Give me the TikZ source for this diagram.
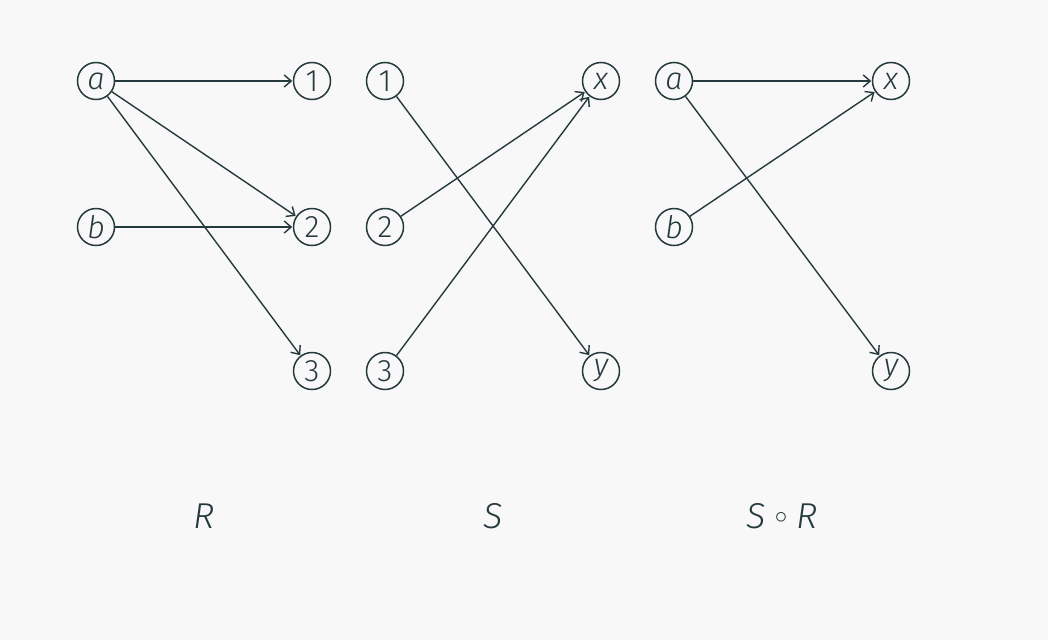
\documentclass[tikz,border=0pt]{standalone}
\usepackage{fontspec}
\setmainfont{Fira Sans}[UprightFont=* Light, ItalicFont=* Light Italic]
\usetikzlibrary{arrows.meta}
\definecolor{ink}{HTML}{263A3E}
\definecolor{bg}{HTML}{F8F8F8}
\begin{document}
\begin{tikzpicture}[x=1pt,y=-1pt,
  vtx/.style={circle,draw=ink,line width=1.5pt,minimum size=37pt,inner sep=0pt,text=ink,font=\fontsize{31}{32}\selectfont\itshape},
  num/.style={vtx,font=\fontsize{31}{32}\selectfont\upshape},
  edge/.style={draw=ink,line width=1.4pt,-{Straight Barb[length=7pt,width=12pt,line width=1.4pt]},shorten >=0.5pt},
  lbl/.style={text=ink,font=\fontsize{36}{38}\selectfont\itshape}]
\fill[bg] (0,0) rectangle (1048,640);
\useasboundingbox (0,0) rectangle (1048,640);
% R
\node[vtx] (Ra) at (96,81) {a};
\node[vtx] (Rb) at (96,227) {b};
\node[num] (R1) at (312,81) {1};
\node[num] (R2) at (312,227) {2};
\node[num] (R3) at (312,371) {3};
\draw[edge] (Ra) -- (R1);
\draw[edge] (Ra) -- (R2);
\draw[edge] (Ra) -- (R3);
\draw[edge] (Rb) -- (R2);
% S
\node[num] (S1) at (385,81) {1};
\node[num] (S2) at (385,227) {2};
\node[num] (S3) at (385,371) {3};
\node[vtx] (Sx) at (601,81) {x};
\node[vtx] (Sy) at (601,371) {y};
\draw[edge] (S1) -- (Sy);
\draw[edge] (S2) -- (Sx);
\draw[edge] (S3) -- (Sx);
% S o R
\node[vtx] (Ca) at (674,81) {a};
\node[vtx] (Cb) at (674,227) {b};
\node[vtx] (Cx) at (891,81) {x};
\node[vtx] (Cy) at (891,371) {y};
\draw[edge] (Ca) -- (Cx);
\draw[edge] (Ca) -- (Cy);
\draw[edge] (Cb) -- (Cx);
% labels
\node[lbl] (LR) at (204,516) {R};
\node[lbl] (LS) at (493,516) {S};
\node[lbl] (LC) at (782,516) {S\hspace{9pt}\raisebox{5pt}{\upshape\fontsize{30}{30}\selectfont$\circ$}\hspace{9pt}R};
\end{tikzpicture}
\end{document}
